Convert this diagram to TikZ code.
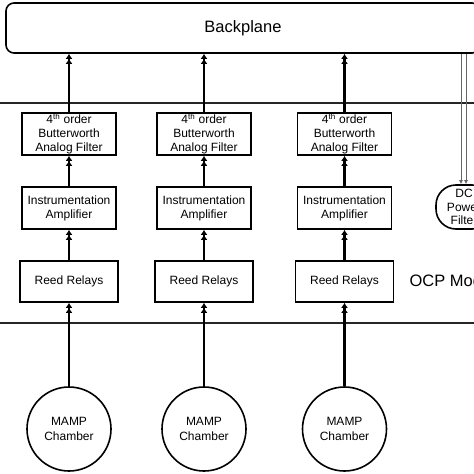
\documentclass[tikz,border=0pt]{standalone}
\usepackage{fontspec}
\setmainfont{Liberation Sans}
\usetikzlibrary{arrows.meta}
\tikzset{
	blk/.style={draw, line width=1.6pt, minimum width=94pt, minimum height=42pt, inner sep=0pt, align=center, font=\fontsize{12}{14}\selectfont},
	relaybox/.style={blk, minimum width=98pt, minimum height=41pt},
	chamber/.style={draw, circle, line width=1.6pt, minimum size=84pt, inner sep=0pt, align=center, font=\fontsize{12}{15}\selectfont},
	sig/.style={line width=2.6pt, -{Latex[length=5pt,width=7pt]Latex[length=5pt,width=7pt]}},
	dcline/.style={line width=0.9pt, black!60, -{Latex[length=4pt,width=4pt]}}
}

\begin{document}
\begin{tikzpicture}[x=1pt, y=-1pt]
			%%%%% START %%%%%
			\useasboundingbox (0,0) rectangle (474,474);
			\clip (0,0) rectangle (474,474);
			
			\node[draw, line width=1.6pt, rounded corners=8pt, minimum width=474pt, minimum height=50pt, font=\fontsize{16.5}{18}\selectfont] (bp) at (243,28) {Backplane};
			
			\draw[line width=1.5pt, black!85] (-10,103) rectangle (490,323);
			\node[anchor=west, font=\fontsize{16.5}{18}\selectfont] (ocp) at (406,281) {OCP Module};
			
			\node[draw, line width=1.6pt, rounded corners=20pt, minimum width=56pt, minimum height=44pt, inner sep=0pt, align=center, font=\fontsize{12}{13.5}\selectfont] (dc) at (464,207) {DC\\Power\\Filter};
			\draw[dcline] ([xshift=-3pt]dc.north |- bp.south) -- ([xshift=-3pt]dc.north);
			\draw[dcline] ([xshift=2pt]dc.north |- bp.south) -- ([xshift=2pt]dc.north);
			
			\node[blk] (filt1) at (69,134) {4\textsuperscript{th} order\\Butterworth\\Analog Filter};
			\node[blk] (amp1) at (69,208) {Instrumentation\\Amplifier};
			\node[relaybox] (relay1) at (69,281.5) {Reed Relays};
			\node[chamber] (mamp1) at (69,429) {MAMP\\Chamber};
			
			\node[blk] (filt2) at (204,134) {4\textsuperscript{th} order\\Butterworth\\Analog Filter};
			\node[blk] (amp2) at (204,208) {Instrumentation\\Amplifier};
			\node[relaybox] (relay2) at (204,281.5) {Reed Relays};
			\node[chamber] (mamp2) at (204,429) {MAMP\\Chamber};
			
			\node[blk] (filt3) at (344.5,134) {4\textsuperscript{th} order\\Butterworth\\Analog Filter};
			\node[blk] (amp3) at (344.5,208) {Instrumentation\\Amplifier};
			\node[relaybox] (relay3) at (344.5,281.5) {Reed Relays};
			\node[chamber] (mamp3) at (344.5,429) {MAMP\\Chamber};
			
			\draw[sig] (mamp1) -- (relay1);
			\draw[sig] (relay1) -- (amp1);
			\draw[sig] (amp1) -- (filt1);
			\draw[sig] (filt1) -- (filt1 |- bp.south);
			
			\draw[sig] (mamp2) -- (relay2);
			\draw[sig] (relay2) -- (amp2);
			\draw[sig] (amp2) -- (filt2);
			\draw[sig] (filt2) -- (filt2 |- bp.south);
			
			\draw[sig] (mamp3) -- (relay3);
			\draw[sig] (relay3) -- (amp3);
			\draw[sig] (amp3) -- (filt3);
			\draw[sig] (filt3) -- (filt3 |- bp.south);
			%%%%% END %%%%%
\end{tikzpicture}
\end{document}
